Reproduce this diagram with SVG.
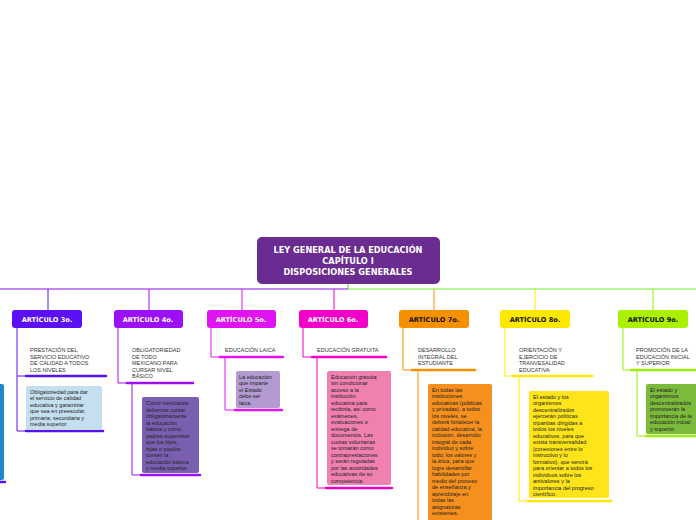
<svg xmlns="http://www.w3.org/2000/svg" width="696" height="520" viewBox="0 0 696 520">
<style>
.h{font-family:"DejaVu Sans",Verdana,sans-serif;font-weight:bold;font-size:6.6px;text-anchor:middle}
.r{font-family:"DejaVu Sans",Verdana,sans-serif;font-weight:bold;font-size:8.2px;text-anchor:middle;fill:#fff}
.l{font-family:"Liberation Sans",Arial,sans-serif;font-size:5.5px;fill:#333}
.b{font-family:"Liberation Sans",Arial,sans-serif;font-size:5.5px;fill:#222}
.c{fill:none;stroke-width:1}
.u{stroke-width:2.5;stroke-linecap:round}
</style>
<rect width="696" height="520" fill="#fff"/>
<g id="connectors">
<line x1="348" y1="284" x2="348" y2="289" stroke="#4fd020"/>
<line x1="0" y1="289" x2="348" y2="289" stroke="#8a10f0" stroke-width="1.2"/>
<line x1="348" y1="289" x2="696" y2="289" stroke="#6ef030" stroke-width="1.2"/>
<path class="c" stroke="#5a10f0" d="M48 289V310M17 328V431H26M17 376H26"/>
<path class="c" stroke="#9b10f5" d="M149 289V310M118 328V383H127M132 383V475H141"/>
<path class="c" stroke="#e014f0" d="M242 289V310M211 328V357H220M225 357V410H235"/>
<path class="c" stroke="#f000c8" d="M334 289V310M303 328V357H312M317 357V488H326"/>
<path class="c" stroke="#f59000" d="M434 289V310M403 328V370H412M418 370V520"/>
<path class="c" stroke="#ffe800" d="M535 289V310M505 328V376H513M519 376V501H528"/>
<path class="c" stroke="#9af000" d="M653 289V310M623 328V370H631M637 370V436H646"/>
<line class="u" x1="26" y1="376" x2="106" y2="376" stroke="#5a10f0"/>
<line class="u" x1="26" y1="431" x2="103" y2="431" stroke="#5a10f0"/>
<line class="u" x1="0" y1="482" x2="5" y2="482" stroke="#5a10f0"/>
<line class="u" x1="127" y1="383" x2="193" y2="383" stroke="#9b10f5"/>
<line class="u" x1="141" y1="475" x2="200" y2="475" stroke="#9b10f5"/>
<line class="u" x1="220" y1="357" x2="283" y2="357" stroke="#e014f0"/>
<line class="u" x1="235" y1="410" x2="282" y2="410" stroke="#e014f0"/>
<line class="u" x1="312" y1="357" x2="386" y2="357" stroke="#f000c8"/>
<line class="u" x1="326" y1="488" x2="392" y2="488" stroke="#f000c8"/>
<line class="u" x1="412" y1="370" x2="475" y2="370" stroke="#f59000"/>
<line class="u" x1="513" y1="376" x2="592" y2="376" stroke="#ffe800"/>
<line class="u" x1="528" y1="501" x2="611" y2="501" stroke="#ffe800"/>
<line class="u" x1="631" y1="370" x2="696" y2="370" stroke="#9af000"/>
<line class="u" x1="646" y1="436" x2="696" y2="436" stroke="#9af000"/>
</g>
<g id="root">
<rect x="257" y="237" width="183" height="47" rx="5" fill="#6a2c91"/>
<text class="r" x="348" y="253">LEY GENERAL DE LA EDUCACIÓN</text>
<text class="r" x="348" y="264">CAPÍTULO I</text>
<text class="r" x="348" y="275">DISPOSICIONES GENERALES</text>
</g>
<g id="left-partial"><rect x="-4" y="384" width="8" height="96" rx="2" fill="#1e88c8"/></g>
<g id="art3">
<rect x="12" y="310" width="70" height="18" rx="3" fill="#5a10f0"/>
<text class="h" fill="#fff" x="47" y="322">ARTÍCULO 3o.</text>
<text class="l" x="30" y="352">PRESTACIÓN DEL</text><text class="l" x="30" y="359">SERVICIO EDUCATIVO</text><text class="l" x="30" y="365">DE CALIDAD A TODOS</text><text class="l" x="30" y="372">LOS NIVELES</text>
<rect x="26" y="386" width="76" height="44" rx="2" fill="#c6dff0"/>
<text class="b" x="30" y="394">Obligatoriedad para dar</text><text class="b" x="30" y="400">el servicio de calidad</text><text class="b" x="30" y="407">educativa y garantizar</text><text class="b" x="30" y="413">que sea en preescolar,</text><text class="b" x="30" y="420">primaria, secundaria y</text><text class="b" x="30" y="426">media superior.</text>
</g>
<g id="art4">
<rect x="114" y="310" width="69" height="18" rx="3" fill="#9b10f5"/>
<text class="h" fill="#fff" x="148" y="322">ARTÍCULO 4o.</text>
<text class="l" x="132" y="352">OBLIGATORIEDAD</text><text class="l" x="132" y="359">DE TODO</text><text class="l" x="132" y="365">MEXICANO PARA</text><text class="l" x="132" y="372">CURSAR NIVEL</text><text class="l" x="132" y="378">BÁSICO</text>
<rect x="142" y="397" width="57" height="76" rx="2" fill="#7a5fb0"/>
<text class="b" x="146" y="405">Como mexicanos</text><text class="b" x="146" y="412">debemos cursar</text><text class="b" x="146" y="418">obligatoriamente</text><text class="b" x="146" y="425">la educación</text><text class="b" x="146" y="431">básica y como</text><text class="b" x="146" y="438">padres supervisar</text><text class="b" x="146" y="444">que los hijos,</text><text class="b" x="146" y="451">hijas o pupilos</text><text class="b" x="146" y="457">cursen la</text><text class="b" x="146" y="464">educación básica</text><text class="b" x="146" y="470">y media superior.</text>
</g>
<g id="art5">
<rect x="207" y="310" width="69" height="18" rx="3" fill="#e014f0"/>
<text class="h" fill="#fff" x="241" y="322">ARTÍCULO 5o.</text>
<text class="l" x="225" y="352">EDUCACIÓN LAICA</text>
<rect x="236" y="371" width="44" height="37" rx="2" fill="#b39ad0"/>
<text class="b" x="239" y="379">La educación</text><text class="b" x="239" y="385">que imparte</text><text class="b" x="239" y="392">el Estado</text><text class="b" x="239" y="398">debe ser</text><text class="b" x="239" y="405">laica.</text>
</g>
<g id="art6">
<rect x="299" y="310" width="69" height="18" rx="3" fill="#f000c8"/>
<text class="h" fill="#fff" x="333" y="322">ARTÍCULO 6o.</text>
<text class="l" x="317" y="352">EDUCACIÓN GRATUITA</text>
<rect x="327" y="371" width="64" height="114" rx="2" fill="#f080b0"/>
<text class="b" x="331" y="379">Educación gratuita</text><text class="b" x="331" y="385">sin condicionar</text><text class="b" x="331" y="392">acceso a la</text><text class="b" x="331" y="398">institución</text><text class="b" x="331" y="405">educativa para</text><text class="b" x="331" y="411">recibirla,  así como</text><text class="b" x="331" y="418">exámenes,</text><text class="b" x="331" y="424">evaluaciones o</text><text class="b" x="331" y="431">entrega de</text><text class="b" x="331" y="437">documentos. Las</text><text class="b" x="331" y="444">cuotas voluntarias</text><text class="b" x="331" y="450">se tomarán como</text><text class="b" x="331" y="457">contraprestaciones</text><text class="b" x="331" y="463">y serán reguladas</text><text class="b" x="331" y="470">por las autoridades</text><text class="b" x="331" y="476">educativas de su</text><text class="b" x="331" y="483">competencia.</text>
</g>
<g id="art7">
<rect x="399" y="310" width="70" height="18" rx="3" fill="#f59000"/>
<text class="h" fill="#111" x="434" y="322">ARTÍCULO 7o.</text>
<text class="l" x="418" y="352">DESARROLLO</text><text class="l" x="418" y="359">INTEGRAL DEL</text><text class="l" x="418" y="365">ESTUDIANTE</text>
<rect x="428" y="384" width="64" height="140" rx="2" fill="#f5901e"/>
<text class="b" x="432" y="392">En todas las</text><text class="b" x="432" y="398">instituciones</text><text class="b" x="432" y="405">educativas (públicas</text><text class="b" x="432" y="411">y privadas), a todos</text><text class="b" x="432" y="418">los niveles, se</text><text class="b" x="432" y="424">deberá fortalecer la</text><text class="b" x="432" y="431">calidad educativa, la</text><text class="b" x="432" y="437">inclusión, desarrollo</text><text class="b" x="432" y="444">integral de cada</text><text class="b" x="432" y="450">individuo  y sobre</text><text class="b" x="432" y="457">todo, los valores y</text><text class="b" x="432" y="463">la ética, para que</text><text class="b" x="432" y="470">logre desarrollar</text><text class="b" x="432" y="476">habilidades por</text><text class="b" x="432" y="483">medio del proceso</text><text class="b" x="432" y="489">de enseñanza y</text><text class="b" x="432" y="496">aprendizaje en</text><text class="b" x="432" y="502">todas las</text><text class="b" x="432" y="509">asignaturas</text><text class="b" x="432" y="515">existentes.</text>
</g>
<g id="art8">
<rect x="500" y="310" width="70" height="18" rx="3" fill="#ffe800"/>
<text class="h" fill="#111" x="535" y="322">ARTÍCULO 8o.</text>
<text class="l" x="519" y="352">ORIENTACIÓN Y</text><text class="l" x="519" y="359">EJERCICIO DE</text><text class="l" x="519" y="365">TRANVESALIDAD</text><text class="l" x="519" y="372">EDUCATIVA</text>
<rect x="529" y="391" width="80" height="107" rx="2" fill="#ffe41a"/>
<text class="b" x="533" y="399">El estado y los</text><text class="b" x="533" y="405">organismos</text><text class="b" x="533" y="412">descentralizados</text><text class="b" x="533" y="418">ejercerán políticas</text><text class="b" x="533" y="425">tripartitas dirigidas a</text><text class="b" x="533" y="431">todos los niveles</text><text class="b" x="533" y="438">educativos, para que</text><text class="b" x="533" y="444">exista transversalidad</text><text class="b" x="533" y="451">(conexiones entre lo</text><text class="b" x="533" y="457">instructivo y lo</text><text class="b" x="533" y="464">formativo), que servirá</text><text class="b" x="533" y="470">para orientar a todos los</text><text class="b" x="533" y="477">individuos sobre los</text><text class="b" x="533" y="483">antivalores y la</text><text class="b" x="533" y="490">importancia del progreso</text><text class="b" x="533" y="496">científico.</text>
</g>
<g id="art9">
<rect x="618" y="310" width="70" height="18" rx="3" fill="#aaf000"/>
<text class="h" fill="#111" x="653" y="322">ARTÍCULO 9o.</text>
<text class="l" x="636" y="352">PROMOCIÓN DE LA</text><text class="l" x="636" y="359">EDUCACIÓN INICIAL</text><text class="l" x="636" y="365">Y SUPERIOR</text>
<rect x="646" y="384" width="56" height="50" rx="2" fill="#7cba3c"/>
<text class="b" x="650" y="392">El estado y</text><text class="b" x="650" y="398">organismos</text><text class="b" x="650" y="405">descentralizados</text><text class="b" x="650" y="411">promoverán la</text><text class="b" x="650" y="418">importancia de la</text><text class="b" x="650" y="424">educación inicial</text><text class="b" x="650" y="431">y superior.</text>
</g>
</svg>
